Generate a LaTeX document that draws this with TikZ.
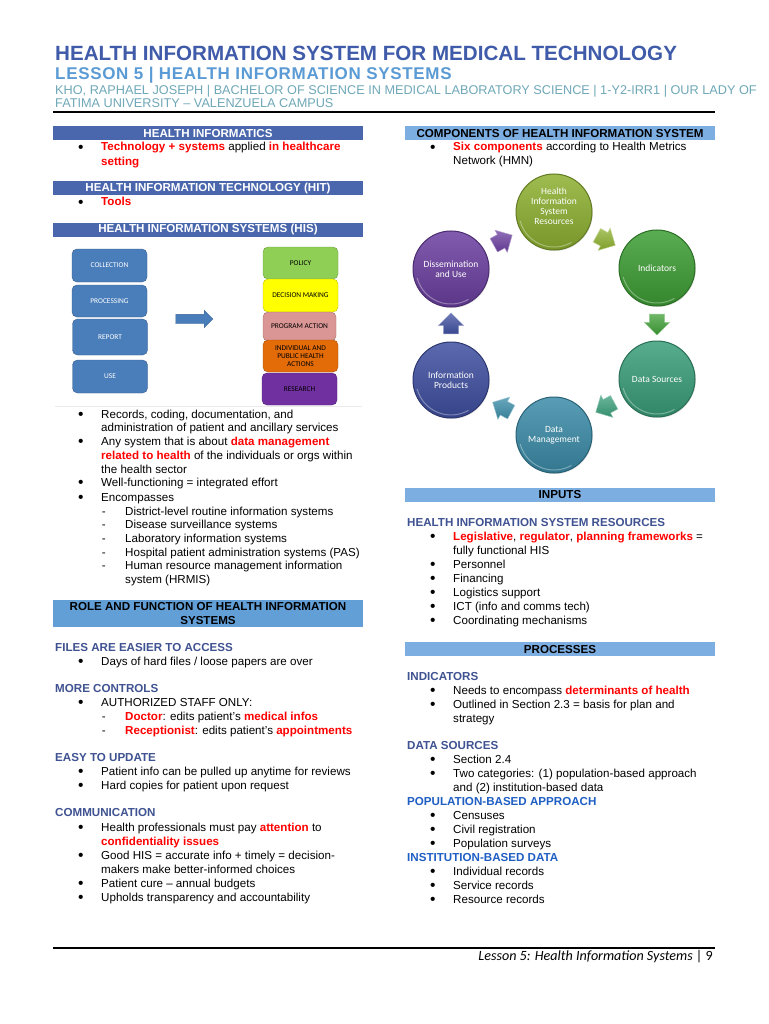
\documentclass[tikz,border=0pt]{standalone}
\usepackage{fontspec}
\setmainfont{Liberation Sans}
\newfontfamily\calibri{Carlito}
\usetikzlibrary{shapes.arrows,shadows}
\definecolor{titleblue}{HTML}{3F5BA9}
\definecolor{lessonblue}{HTML}{5B9BD5}
\definecolor{subteal}{HTML}{6FA8B8}
\definecolor{bandblue}{HTML}{4A66AC}
\definecolor{bandsky}{HTML}{7DAEE2}
\definecolor{bandmid}{HTML}{629FD6}
\definecolor{headblue}{HTML}{3F5291}
\definecolor{linkblue}{HTML}{1F5FC4}
\definecolor{boxblue}{HTML}{4A7EBB}
\definecolor{hot}{HTML}{FF0000}
\definecolor{fig1}{HTML}{8FCF55}
\definecolor{fig2}{HTML}{FFFF00}
\definecolor{fig3}{HTML}{D99694}
\definecolor{fig4}{HTML}{E36C09}
\definecolor{fig5}{HTML}{7030A0}
\definecolor{ring1}{HTML}{8DB030}
\definecolor{ring2}{HTML}{3E9E35}
\definecolor{ring3}{HTML}{3A9E7A}
\definecolor{ring4}{HTML}{3B8CA8}
\definecolor{ring5}{HTML}{3F4FA0}
\definecolor{ring6}{HTML}{6B3FA0}
\newcommand{\hot}[1]{\textcolor{hot}{\textbf{#1}}}
\tikzset{
  body/.style={anchor=base west,inner sep=0pt,font=\fontsize{11.6}{13}\selectfont,text height=9pt,text depth=3pt},
  item/.style={body,label={[body,anchor=east,font=\fontsize{15.5}{15}\selectfont,xshift=-17.3pt,yshift=-1.4pt]left:\textbullet}},
  subitem/.style={body,label={[body,anchor=east,xshift=-19pt]left:-}},
  head/.style={body,text=headblue,font=\fontsize{11.6}{13}\selectfont\bfseries},
  sublink/.style={body,text=linkblue,font=\fontsize{11.6}{13}\selectfont\bfseries},
  band/.style={minimum width=310pt,minimum height=14pt,inner sep=0pt,fill=#1,font=\fontsize{11.6}{13}\selectfont\bfseries},
  blockbox/.style={draw=#1!75!black,fill=#1,rounded corners=5pt,minimum width=75pt,inner sep=0pt,align=center,font=\calibri\fontsize{7.4}{8.3}\selectfont},
  comp/.style={circle,minimum size=76pt,inner sep=0pt,draw=#1!70!black,line width=1pt,top color=#1!85!white,bottom color=#1!85!black,text=white,align=center,font=\calibri\fontsize{9.5}{10}\selectfont,drop shadow={shadow xshift=0.8pt,shadow yshift=-1pt,opacity=.25},
    path picture={\draw[white,opacity=.35,line width=1pt] ([shift={(195:35pt)}]path picture bounding box.center) arc[start angle=195,end angle=300,radius=35pt];}},
  ringarrow/.style={single arrow,pos=.42,minimum height=21pt,minimum width=25pt,inner xsep=0pt,inner ysep=7.5pt,single arrow head extend=5pt,draw=#1!50!white,line width=.4pt,top color=#1!75!white,bottom color=#1!90!black,sloped,allow upside down},
}
\begin{document}
\begin{tikzpicture}[x=1pt,y=-1pt]
  \useasboundingbox (0,0) rectangle (768,1024);
  \fill[white] (0,0) rectangle (768,1024);

  % page head
  \node[anchor=base west,inner sep=0pt,text=titleblue,font=\fontsize{20.6}{22}\selectfont\bfseries] (title) at (55,60.5) {HEALTH INFORMATION SYSTEM FOR MEDICAL TECHNOLOGY};
  \node[anchor=base west,inner sep=0pt,text=lessonblue,font=\fontsize{17}{18}\selectfont\bfseries\addfontfeature{LetterSpace=4}] (lesson) at (55,80) {LESSON 5 | HEALTH INFORMATION SYSTEMS};
  \node[anchor=base west,inner sep=0pt,text=subteal,font=\fontsize{12.7}{13}\selectfont] (author) at (55,95) {KHO, RAPHAEL JOSEPH | BACHELOR OF SCIENCE IN MEDICAL LABORATORY SCIENCE | 1-Y2-IRR1 | OUR LADY OF};
  \node[anchor=base west,inner sep=0pt,text=subteal,font=\fontsize{12.7}{13}\selectfont] (campus) at (55,108) {FATIMA UNIVERSITY -- VALENZUELA CAMPUS};
  \coordinate (topL) at (53,112);
  \coordinate (topR) at (715,112);
  \draw[line width=1.6pt] (topL) -- (topR);

  % left column
  \node[band=bandblue,text=white] (informatics) at (208,133.5) {HEALTH INFORMATICS};
  \node[item] (tech) at (101,151) {\hot{Technology + systems} applied \hot{in healthcare}};
  \node[body] (tech2) at (101,166) {\hot{setting}};
  \node[band=bandblue,text=white] (hit) at (208,188.5) {HEALTH INFORMATION TECHNOLOGY (HIT)};
  \node[item] (tools) at (101,206) {\hot{Tools}};
  \node[band=bandblue,text=white] (his) at (208,230) {HEALTH INFORMATION SYSTEMS (HIS)};

  % left figure
  \node[blockbox=boxblue,minimum height=33pt,text=white] (collection) at (109.5,265.5) {COLLECTION};
  \node[blockbox=boxblue,minimum height=32pt,text=white] (processing) at (109.5,301) {PROCESSING};
  \node[blockbox=boxblue,minimum height=36pt,text=white] (report) at (110,337) {REPORT};
  \node[blockbox=boxblue,minimum height=33pt,text=white] (use) at (110,376.5) {USE};
  \node[single arrow,minimum height=37pt,minimum width=17pt,inner xsep=0pt,inner ysep=4.5pt,single arrow head extend=4pt,fill=boxblue,draw=boxblue!80!black,line width=.3pt] (flow) at (192,319) {};
  \node[blockbox=fig1,minimum height=32pt] (policy) at (300.5,263) {POLICY};
  \node[blockbox=fig2,minimum height=33pt] (decision) at (300.5,295.5) {DECISION MAKING};
  \node[blockbox=fig3,minimum height=29pt,minimum width=73pt] (program) at (299.5,326.5) {PROGRAM ACTION};
  \node[blockbox=fig4,minimum height=32pt] (individual) at (300.5,356) {INDIVIDUAL AND\\PUBLIC HEALTH\\ACTIONS};
  \node[blockbox=fig5,minimum height=32pt] (research) at (299.5,389) {RESEARCH};
  \coordinate (figL) at (55,406.5);
  \coordinate (figR) at (362,406.5);
  \draw[black!8,line width=.8pt] (figL) -- (figR);

  \node[item] (rec) at (101,418) {Records, coding, documentation, and};
  \node[body] (rec2) at (101,431) {administration of patient and ancillary services};
  \node[item] (any) at (101,445) {Any system that is about \hot{data management}};
  \node[body] (any2) at (101,459) {\hot{related to health} of the individuals or orgs within};
  \node[body] (any3) at (101,473) {the health sector};
  \node[item] (well) at (101,486) {Well-functioning = integrated effort};
  \node[item] (enc) at (101,501) {Encompasses};
  \node[subitem] (dist) at (125,515) {District-level routine information systems};
  \node[subitem] (dis) at (125,528) {Disease surveillance systems};
  \node[subitem] (lab) at (125,542) {Laboratory information systems};
  \node[subitem] (hosp) at (125,556) {Hospital patient administration systems (PAS)};
  \node[subitem] (hr) at (125,569) {Human resource management information};
  \node[body] (hr2) at (125,583) {system (HRMIS)};

  \node[band=bandmid,minimum height=27pt,align=center,font=\fontsize{11.6}{13.6}\selectfont\bfseries] (role) at (208,613.5) {ROLE AND FUNCTION OF HEALTH INFORMATION\\SYSTEMS};
  \node[head] (files) at (55,651) {FILES ARE EASIER TO ACCESS};
  \node[item] (days) at (101,665) {Days of hard files / loose papers are over};
  \node[head] (more) at (55,692) {MORE CONTROLS};
  \node[item] (staff) at (101,706) {AUTHORIZED STAFF ONLY:};
  \node[subitem] (doc) at (125,720) {\hot{Doctor}: edits patient's \hot{medical infos}};
  \node[subitem] (recep) at (125,734) {\hot{Receptionist}: edits patient's \hot{appointments}};
  \node[head] (easy) at (55,761) {EASY TO UPDATE};
  \node[item] (info) at (101,775) {Patient info can be pulled up anytime for reviews};
  \node[item] (hard) at (101,789) {Hard copies for patient upon request};
  \node[head] (comm) at (55,816) {COMMUNICATION};
  \node[item] (prof) at (101,831) {Health professionals must pay \hot{attention} to};
  \node[body] (prof2) at (101,845) {\hot{confidentiality issues}};
  \node[item] (good) at (101,859) {Good HIS = accurate info + timely = decision-};
  \node[body] (good2) at (101,873) {makers make better-informed choices};
  \node[item] (cure) at (101,887) {Patient cure -- annual budgets};
  \node[item] (uph) at (101,901) {Upholds transparency and accountability};

  % right column
  \node[band=bandsky] (comps) at (560,133.5) {COMPONENTS OF HEALTH INFORMATION SYSTEM};
  \node[item] (six) at (453,151) {\hot{Six components} according to Health Metrics};
  \node[body] (six2) at (453,165) {Network (HMN)};

  % ring of components
  \node[comp=ring1] (hisres) at (554,212) {Health\\Information\\System\\Resources\\[2pt]\mbox{}};
  \node[comp=ring2] (indic) at (657,268) {Indicators};
  \node[comp=ring3] (sources) at (657,379) {Data Sources};
  \node[comp=ring4] (manage) at (554,435) {Data\\Management};
  \node[comp=ring5] (products) at (451,380) {Information\\Products};
  \node[comp=ring6] (dissem) at (451,269) {Dissemination\\and Use};
  \path (dissem) -- node[ringarrow=ring6] (arrA) {} (hisres);
  \path (hisres) -- node[ringarrow=ring1] (arrB) {} (indic);
  \path (indic) -- node[ringarrow=ring2] (arrC) {} (sources);
  \path (sources) -- node[ringarrow=ring3] (arrD) {} (manage);
  \path (manage) -- node[ringarrow=ring4] (arrE) {} (products);
  \path (products) -- node[ringarrow=ring5] (arrF) {} (dissem);

  \node[band=bandsky] (inputs) at (560,495) {INPUTS};
  \node[head] (res) at (407,526) {HEALTH INFORMATION SYSTEM RESOURCES};
  \node[item] (leg) at (453,540) {\hot{Legislative}, \hot{regulator}, \hot{planning frameworks} =};
  \node[body] (leg2) at (453,554) {fully functional HIS};
  \node[item] (pers) at (453,568) {Personnel};
  \node[item] (fin) at (453,582) {Financing};
  \node[item] (log) at (453,596) {Logistics support};
  \node[item] (ict) at (453,610) {ICT (info and comms tech)};
  \node[item] (coord) at (453,624) {Coordinating mechanisms};

  \node[band=bandsky] (procs) at (560,649) {PROCESSES};
  \node[head] (ind) at (407,680) {INDICATORS};
  \node[item] (needs) at (453,694) {Needs to encompass \hot{determinants of health}};
  \node[item] (outl) at (453,708) {Outlined in Section 2.3 = basis for plan and};
  \node[body] (outl2) at (453,722) {strategy};
  \node[head] (dsrc) at (407,749) {DATA SOURCES};
  \node[item] (sec) at (453,763) {Section 2.4};
  \node[item] (two) at (453,777) {Two categories: (1) population-based approach};
  \node[body] (two2) at (453,791) {and (2) institution-based data};
  \node[sublink] (pop) at (407,805) {POPULATION-BASED APPROACH};
  \node[item] (cens) at (453,819) {Censuses};
  \node[item] (civil) at (453,833) {Civil registration};
  \node[item] (surv) at (453,847) {Population surveys};
  \node[sublink] (inst) at (407,861) {INSTITUTION-BASED DATA};
  \node[item] (indiv) at (453,875) {Individual records};
  \node[item] (serv) at (453,889) {Service records};
  \node[item] (resrec) at (453,903) {Resource records};

  % page foot
  \coordinate (botL) at (53,948);
  \coordinate (botR) at (715,948);
  \draw[line width=1.6pt] (botL) -- (botR);
  \node[anchor=base east,inner sep=0pt,font=\calibri\fontsize{14.1}{16}\selectfont] (foot) at (713,960) {\textit{Lesson 5: Health Information Systems} | 9};
\end{tikzpicture}
\end{document}
